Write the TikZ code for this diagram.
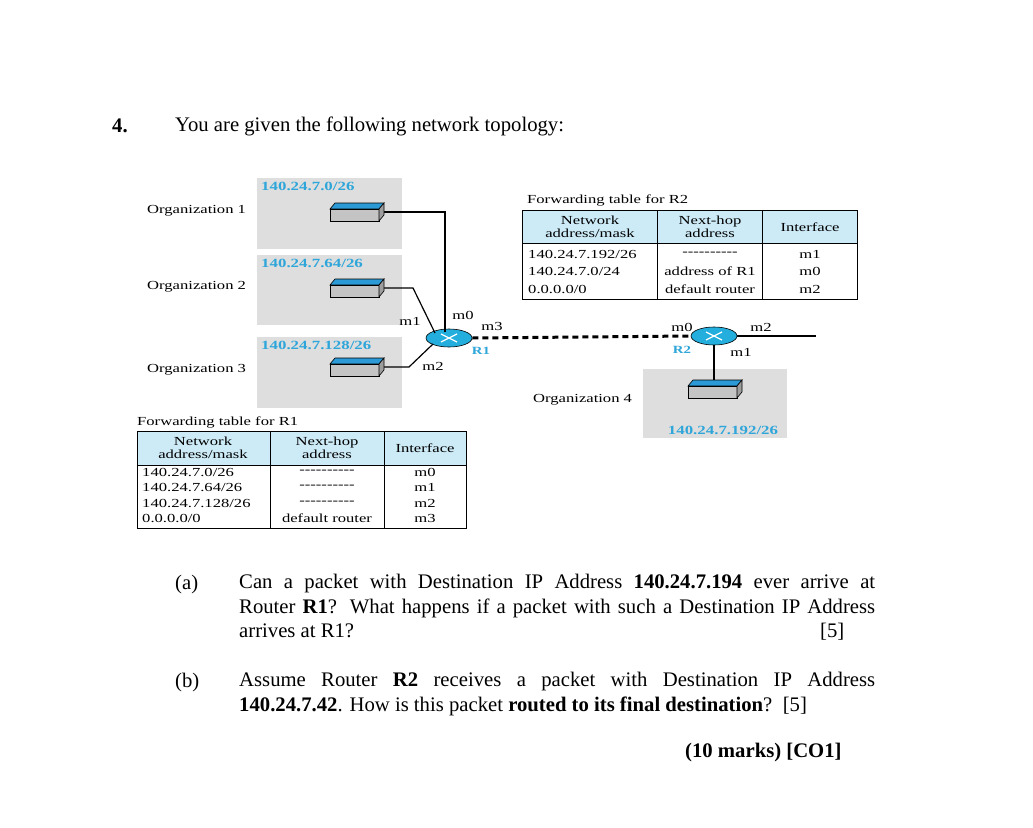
\documentclass[tikz,border=0pt]{standalone}
\usepackage{fontspec}
\setmainfont{Liberation Serif}
\newfontfamily\dfont[FakeStretch=1.35]{Liberation Serif}
\usetikzlibrary{shapes.geometric}
\definecolor{org}{HTML}{DEDEDE}
\definecolor{lbl}{HTML}{2FA6DA}
\definecolor{hdr}{HTML}{CDEBF7}
\definecolor{hostblue}{HTML}{2C9AD6}
\definecolor{hostgray}{HTML}{C4C4C4}
\newcommand{\dsh}{{-}{-}{-}{-}{-}{-}{-}{-}{-}{-}}
\tikzset{
  orgbox/.style={fill=org,draw=none},
  net/.style={text=lbl,font=\dfont\fontsize{12.5}{13}\selectfont\bfseries,anchor=west,inner sep=0},
  dtext/.style={font=\dfont\fontsize{12.3}{13.5}\selectfont,inner sep=0},
  ptext/.style={font=\fontsize{20.7}{24.5}\selectfont,inner sep=0,anchor=west},
  link/.style={line width=1.2pt},
  pics/host/.style={code={
    \fill[hostblue,draw=black,line width=0.6pt] (0,6)--(5,0)--(54,0)--(49,6)--cycle;
    \fill[hostgray,draw=black,line width=0.6pt] (0,6) rectangle (49,18);
    \fill[hostgray!80!black,draw=black,line width=0.6pt] (49,6)--(54,0)--(54,12)--(49,18)--cycle;
  }},
  router/.style={ellipse,minimum width=46pt,minimum height=18pt,fill=hostblue!80!cyan,draw=black,line width=0.6pt,inner sep=0}
}
\begin{document}
\begin{tikzpicture}[x=1pt,y=-1pt]
\useasboundingbox (0,0) rectangle (1033,827);
\fill[white] (0,0) rectangle (1033,827);
\node[ptext] (num) at (112,126) {\bfseries 4.};
\node[ptext] (intro) at (175,126) {You are given the following network topology:};
% org boxes
\fill[orgbox] (257,178) rectangle (402,249);
\fill[orgbox] (257,255) rectangle (402,325);
\fill[orgbox] (257,337) rectangle (402,408);
\fill[orgbox] (643,369) rectangle (787,438);
\node[net] (n1) at (261,186) {140.24.7.0/26};
\node[net] (n2) at (261,263) {140.24.7.64/26};
\node[net] (n3) at (261,345) {140.24.7.128/26};
\node[net,anchor=center] (n4) at (723,430) {140.24.7.192/26};
\node[dtext,anchor=west] (o1) at (147,211) {Organization 1};
\node[dtext,anchor=west] (o2) at (147,287) {Organization 2};
\node[dtext,anchor=west] (o3) at (147,370) {Organization 3};
\node[dtext,anchor=west] (o4) at (533,400) {Organization 4};
% links
\coordinate (h1) at (380,212); \coordinate (h2) at (380,288); \coordinate (h3) at (380,367); \coordinate (h4) at (714,384);
\coordinate (c1) at (445,212); \coordinate (c2) at (413,288); \coordinate (c3) at (409,367);
\node[router] (R1) at (449,338) {};
\node[router] (R2) at (714,336) {};
\coordinate (out) at (816,336);
\draw[link] (h1)--(c1)--(445,332);
\draw[link] (h2)--(c2)--(435,333);
\draw[link] (h3)--(c3)--(433,344);
\draw[link] (R2.south)--(h4);
\draw[link] (R2.east)--(out);
\draw[line width=3pt,dash pattern=on 6pt off 4pt] (R1.east)--(R2.west);
\foreach \p in {R1,R2}{
  \draw[white,line width=1.2pt] ([xshift=-8pt,yshift=-4pt]\p.center)--([xshift=8pt,yshift=4pt]\p.center);
  \draw[white,line width=1.2pt] ([xshift=-8pt,yshift=4pt]\p.center)--([xshift=8pt,yshift=-4pt]\p.center);
}
\pic at (330,203) {host};
\pic at (330,279) {host};
\pic at (330,358) {host};
\pic at (688,380) {host};
% port labels
\node[dtext] (a1) at (410,321) {m1};
\node[dtext] (a0) at (463,315) {m0};
\node[dtext] (a3) at (492,326) {m3};
\node[dtext,text=lbl,font=\dfont\fontsize{11}{12}\selectfont\bfseries] (r1) at (481,351) {R1};
\node[dtext] (a2) at (433,366) {m2};
\node[dtext] (b0) at (682,327) {m0};
\node[dtext] (b2) at (761,327) {m2};
\node[dtext,text=lbl,font=\dfont\fontsize{11}{12}\selectfont\bfseries] (r2) at (682,350) {R2};
\node[dtext] (b1) at (741,352) {m1};
% R2 table
\node[dtext,anchor=west] (t2) at (527,200) {Forwarding table for R2};
\fill[hdr] (522,210) rectangle (857,243);
\draw[line width=0.8pt] (522,210) rectangle (857,299);
\draw[line width=0.8pt] (522,243)--(857,243) (657,210)--(657,299) (762,210)--(762,299);
\node[dtext,align=center] (h21) at (590,227) {Network\\address/mask};
\node[dtext,align=center] (h22) at (710,227) {Next-hop\\address};
\node[dtext] (h23) at (810,227) {Interface};
\node[dtext,anchor=west] at (528,254) {140.24.7.192/26};
\node[dtext,anchor=west] at (528,271) {140.24.7.0/24};
\node[dtext,anchor=west] at (528,289) {0.0.0.0/0};
\node[dtext] at (710,254) {\dsh};
\node[dtext] at (710,271) {address of R1};
\node[dtext] at (710,289) {default router};
\node[dtext] at (810,254) {m1};
\node[dtext] at (810,271) {m0};
\node[dtext] at (810,289) {m2};
% R1 table
\node[dtext,anchor=west] (t1) at (137,422) {Forwarding table for R1};
\fill[hdr] (137,431) rectangle (466,465);
\draw[line width=0.8pt] (137,431) rectangle (466,528);
\draw[line width=0.8pt] (137,465)--(466,465) (270,431)--(270,528) (384,431)--(384,528);
\node[dtext,align=center] at (203,448) {Network\\address/mask};
\node[dtext,align=center] at (327,448) {Next-hop\\address};
\node[dtext] at (425,448) {Interface};
\node[dtext,anchor=west] at (142,472) {140.24.7.0/26};
\node[dtext,anchor=west] at (142,487) {140.24.7.64/26};
\node[dtext,anchor=west] at (142,503) {140.24.7.128/26};
\node[dtext,anchor=west] at (142,518) {0.0.0.0/0};
\node[dtext] at (327,472) {\dsh};
\node[dtext] at (327,487) {\dsh};
\node[dtext] at (327,503) {\dsh};
\node[dtext] at (327,518) {default router};
\node[dtext] at (425,472) {m0};
\node[dtext] at (425,487) {m1};
\node[dtext] at (425,503) {m2};
\node[dtext] at (425,518) {m3};
% questions
\node[ptext] (qa) at (175,585) {(a)};
\node[ptext,anchor=north west,text width=636pt,align=justify] (qat) at (239,574) {Can a packet with Destination IP Address \textbf{140.24.7.194} ever arrive at\linebreak Router \textbf{R1}? What happens if a packet with such a Destination IP Address\linebreak arrives at R1?\hfill\makebox[55pt][l]{[5]}};
\node[ptext] (qb) at (175,683) {(b)};
\node[ptext,anchor=north west,text width=636pt,align=justify] (qbt) at (239,672) {Assume Router \textbf{R2} receives a packet with Destination IP Address\linebreak \textbf{140.24.7.42}. How is this packet \textbf{routed to its final destination}?\enspace [5]};
\node[ptext] (marks) at (685,753) {\bfseries (10 marks) [CO1]};
\end{tikzpicture}
\end{document}
